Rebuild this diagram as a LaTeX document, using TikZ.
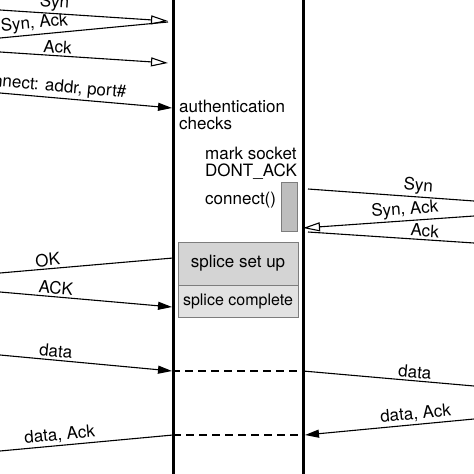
\documentclass[tikz,border=0pt]{standalone}
\usepackage{fontspec}
\setmainfont{TeX Gyre Heros}
\usepackage{tikz}
\usetikzlibrary{arrows.meta,positioning}
\definecolor{setupgray}{RGB}{212,212,212}
\definecolor{donegray}{RGB}{226,226,226}
\definecolor{markgray}{RGB}{190,190,190}
\definecolor{edgegray}{RGB}{125,125,125}

\begin{document}
\begin{tikzpicture}[x=1pt,y=-1pt,>={Triangle[length=14pt,width=8pt]},
  every node/.style={font=\fontsize{17}{16.5}\selectfont,inner sep=0pt},
  msg/.style={line width=1.1pt},
  lbl/.style={sloped,above=2pt},
  opentip/.style={-{Triangle[length=17pt,width=9pt,fill=white]}},
  lifeline/.style={line width=3pt}]
  \useasboundingbox (0,0) rectangle (474,474);
  % lifelines
  \coordinate (lefttop) at (173,0);
  \coordinate (leftbot) at (173,474);
  \coordinate (righttop) at (303,0);
  \coordinate (rightbot) at (303,474);
  \draw[lifeline] (lefttop) -- (leftbot);
  \draw[lifeline] (righttop) -- (rightbot);
  % end points of the messages
  \coordinate (synA) at (0,10);     \coordinate (synB) at (168,21);
  \coordinate (synackA) at (0,38);  \coordinate (synackB) at (168,22);
  \coordinate (ackA) at (0,52);     \coordinate (ackB) at (168,63);
  \coordinate (connA) at (0,93);    \coordinate (connB) at (172,108);
  \coordinate (okA) at (0,273);     \coordinate (okB) at (173,258);
  \coordinate (ACKA) at (0,292);    \coordinate (ACKB) at (172,307);
  \coordinate (dataA) at (0,355);   \coordinate (dataB) at (172,371);
  \coordinate (dackA) at (0,451);   \coordinate (dackB) at (173,435);
  \coordinate (rsynA) at (308,189); \coordinate (rsynB) at (474,201);
  \coordinate (rsynackA) at (303,228); \coordinate (rsynackB) at (474,216);
  \coordinate (rackA) at (308,232); \coordinate (rackB) at (474,243);
  \coordinate (rdataA) at (303,371); \coordinate (rdataB) at (474,386);
  \coordinate (rdackA) at (305,435); \coordinate (rdackB) at (474,419);
  % notes and boxes
  \node[anchor=west,align=left] (auth) at (179,115) {authentication\\checks};
  \node[anchor=west,align=left] (mark) at (205,163.5) {mark socket\\DONT\_ACK};
  \node[anchor=west] (conn) at (205,200) {connect()};
  \node[draw=edgegray,fill=markgray,minimum width=16pt,minimum height=49pt] (pending) at (289,206.5) {};
  \node[draw=edgegray,fill=setupgray,minimum width=120pt,minimum height=43pt] (setup) at (238,263.5) {splice set up};
  \node[draw=edgegray,fill=donegray,minimum width=120pt,minimum height=32pt,below=0pt of setup] (done)
    {\fontsize{16}{16}\selectfont splice complete};
  % left side
  \draw[msg,opentip] (synA) -- node[lbl,pos=.32] (synlbl) {Syn} (synB);
  \draw[msg] (synackA) -- node[lbl,pos=.21] (synacklbl) {Syn, Ack} (synackB);
  \draw[msg,opentip] (ackA) -- node[lbl,pos=.34] (acklbl) {Ack} (ackB);
  \draw[msg,->] (connA) -- node[lbl,pos=.29] (connlbl) {connect: addr, port\#} (connB);
  \draw[msg] (okA) -- node[lbl,pos=.28] (oklbl) {OK} (okB);
  \draw[msg,->] (ACKA) -- node[lbl,pos=.32] (ACKlbl) {ACK} (ACKB);
  \draw[msg,->] (dataA) -- node[lbl,pos=.32] (datalbl) {data} (dataB);
  \draw[msg] (dackA) -- node[lbl,pos=.35] (dacklbl) {data, Ack} (dackB);
  % right side
  \draw[msg] (rsynA) -- node[lbl,pos=.66] (rsynlbl) {Syn} (rsynB);
  \draw[msg,{Triangle[length=17pt,width=9pt,fill=white]}-] (rsynackA) -- node[lbl,pos=.6] (rsynacklbl) {Syn, Ack} (rsynackB);
  \draw[msg] (rackA) -- node[lbl,pos=.7] (racklbl) {Ack} (rackB);
  \draw[msg] (rdataA) -- node[lbl,pos=.65] (rdatalbl) {data} (rdataB);
  \draw[msg,<-] (rdackA) -- node[lbl,pos=.66] (rdacklbl) {data, Ack} (rdackB);
  % spliced path
  \draw[msg,dash pattern=on 8pt off 5pt] (dataB) -- (rdataA);
  \draw[msg,dash pattern=on 8pt off 5pt] (dackB) -- (rdackA);
\end{tikzpicture}
\end{document}
